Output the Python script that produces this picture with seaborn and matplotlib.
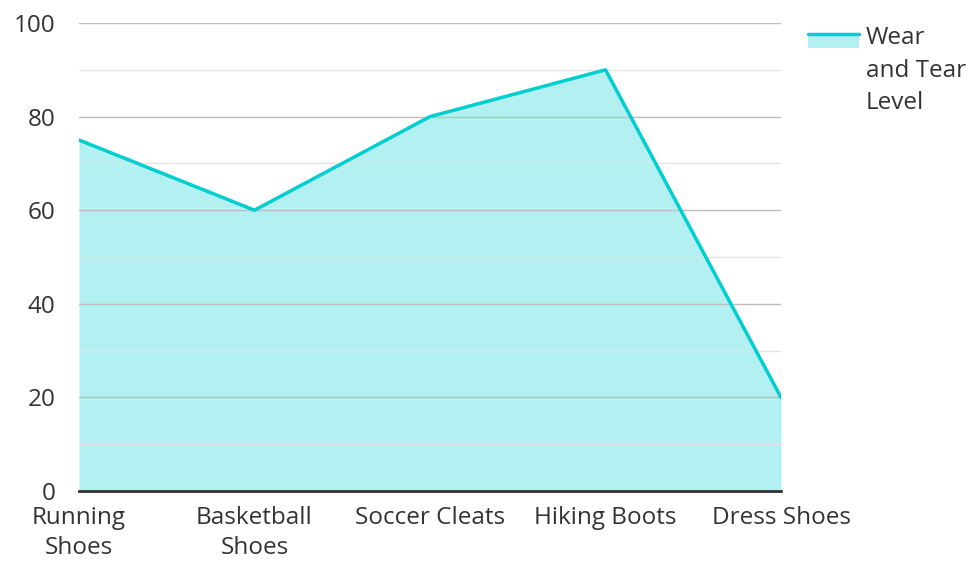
import matplotlib
matplotlib.use("Agg")
import matplotlib.pyplot as plt
import seaborn as sns
import pandas as pd
import numpy as np
from matplotlib.patches import Rectangle
from matplotlib.lines import Line2D
from matplotlib.legend_handler import HandlerBase
from matplotlib.ticker import MultipleLocator

categories = ["Running Shoes", "Basketball Shoes", "Soccer Cleats", "Hiking Boots", "Dress Shoes"]
tick_labels = ["Running\nShoes", "Basketball\nShoes", "Soccer Cleats", "Hiking Boots", "Dress Shoes"]
wear_values = [75, 60, 80, 90, 20]
series_name = "Wear\nand Tear\nLevel"

sns.set_theme(style="white")
plt.rcParams['font.family'] = ['Open Sans', 'DejaVu Sans']

df = pd.DataFrame({"pos": np.arange(len(categories)), "value": wear_values})

fig = plt.figure(figsize=(9.68, 5.63), dpi=100)
ax = fig.add_axes([79/968, 1-491/563, (781-79)/968, (491-23)/563])

color = "#00CED1"
FS = 17.5
LS = 1.48
ax.fill_between(df["pos"], 0, df["value"], color=color, alpha=0.3, linewidth=0, zorder=1)
sns.lineplot(data=df, x="pos", y="value", ax=ax, color=color, linewidth=2.5, zorder=3)

ax.set_xlim(0, len(categories) - 1)
ax.set_ylim(0, 100)
ax.yaxis.set_major_locator(MultipleLocator(20))
ax.yaxis.set_minor_locator(MultipleLocator(10))
ax.set_xticks(df["pos"])
ax.set_xticklabels(tick_labels)
ax.grid(which="major", axis="y", color="#bdbdbd", linewidth=1, zorder=2)
ax.grid(which="minor", axis="y", color="#e4e4e4", linewidth=1, zorder=2)
ax.set_axisbelow(False)
for s in ["top", "right", "left"]:
    ax.spines[s].set_visible(False)
ax.spines["bottom"].set_color("#333333")
ax.spines["bottom"].set_linewidth(2)
ax.spines["bottom"].set_zorder(4)
ax.tick_params(axis="both", which="both", length=0, labelsize=FS, colors="#333333")
ax.tick_params(axis="y", pad=17)
ax.tick_params(axis="x", pad=10.5)
ax.set_xlabel("")
ax.set_ylabel("")
for lbl in ax.get_xticklabels():
    lbl.set_linespacing(1.36)


class AreaHandler(HandlerBase):
    def create_artists(self, legend, orig_handle, xdescent, ydescent, width, height, fontsize, trans):
        rect = Rectangle((-xdescent, -ydescent), width, height, facecolor=color, alpha=0.3,
                         edgecolor="none", transform=trans)
        line = Line2D([-xdescent, -xdescent + width], [-ydescent + height, -ydescent + height],
                      color=color, linewidth=2.5, transform=trans)
        return [rect, line]


leg = fig.legend([object()], [""], loc="upper left", bbox_to_anchor=(789/968, 1-12/563),
                 frameon=False, fontsize=FS, handlelength=2.1, handleheight=0.55,
                 handletextpad=0.0, borderpad=0.3,
                 handler_map={object: AreaHandler()})
fig.text(866/968, 1-26/563, series_name, ha="left", va="top", fontsize=FS,
         color="#333333", linespacing=LS)

fig.savefig("out.png", dpi=100)
